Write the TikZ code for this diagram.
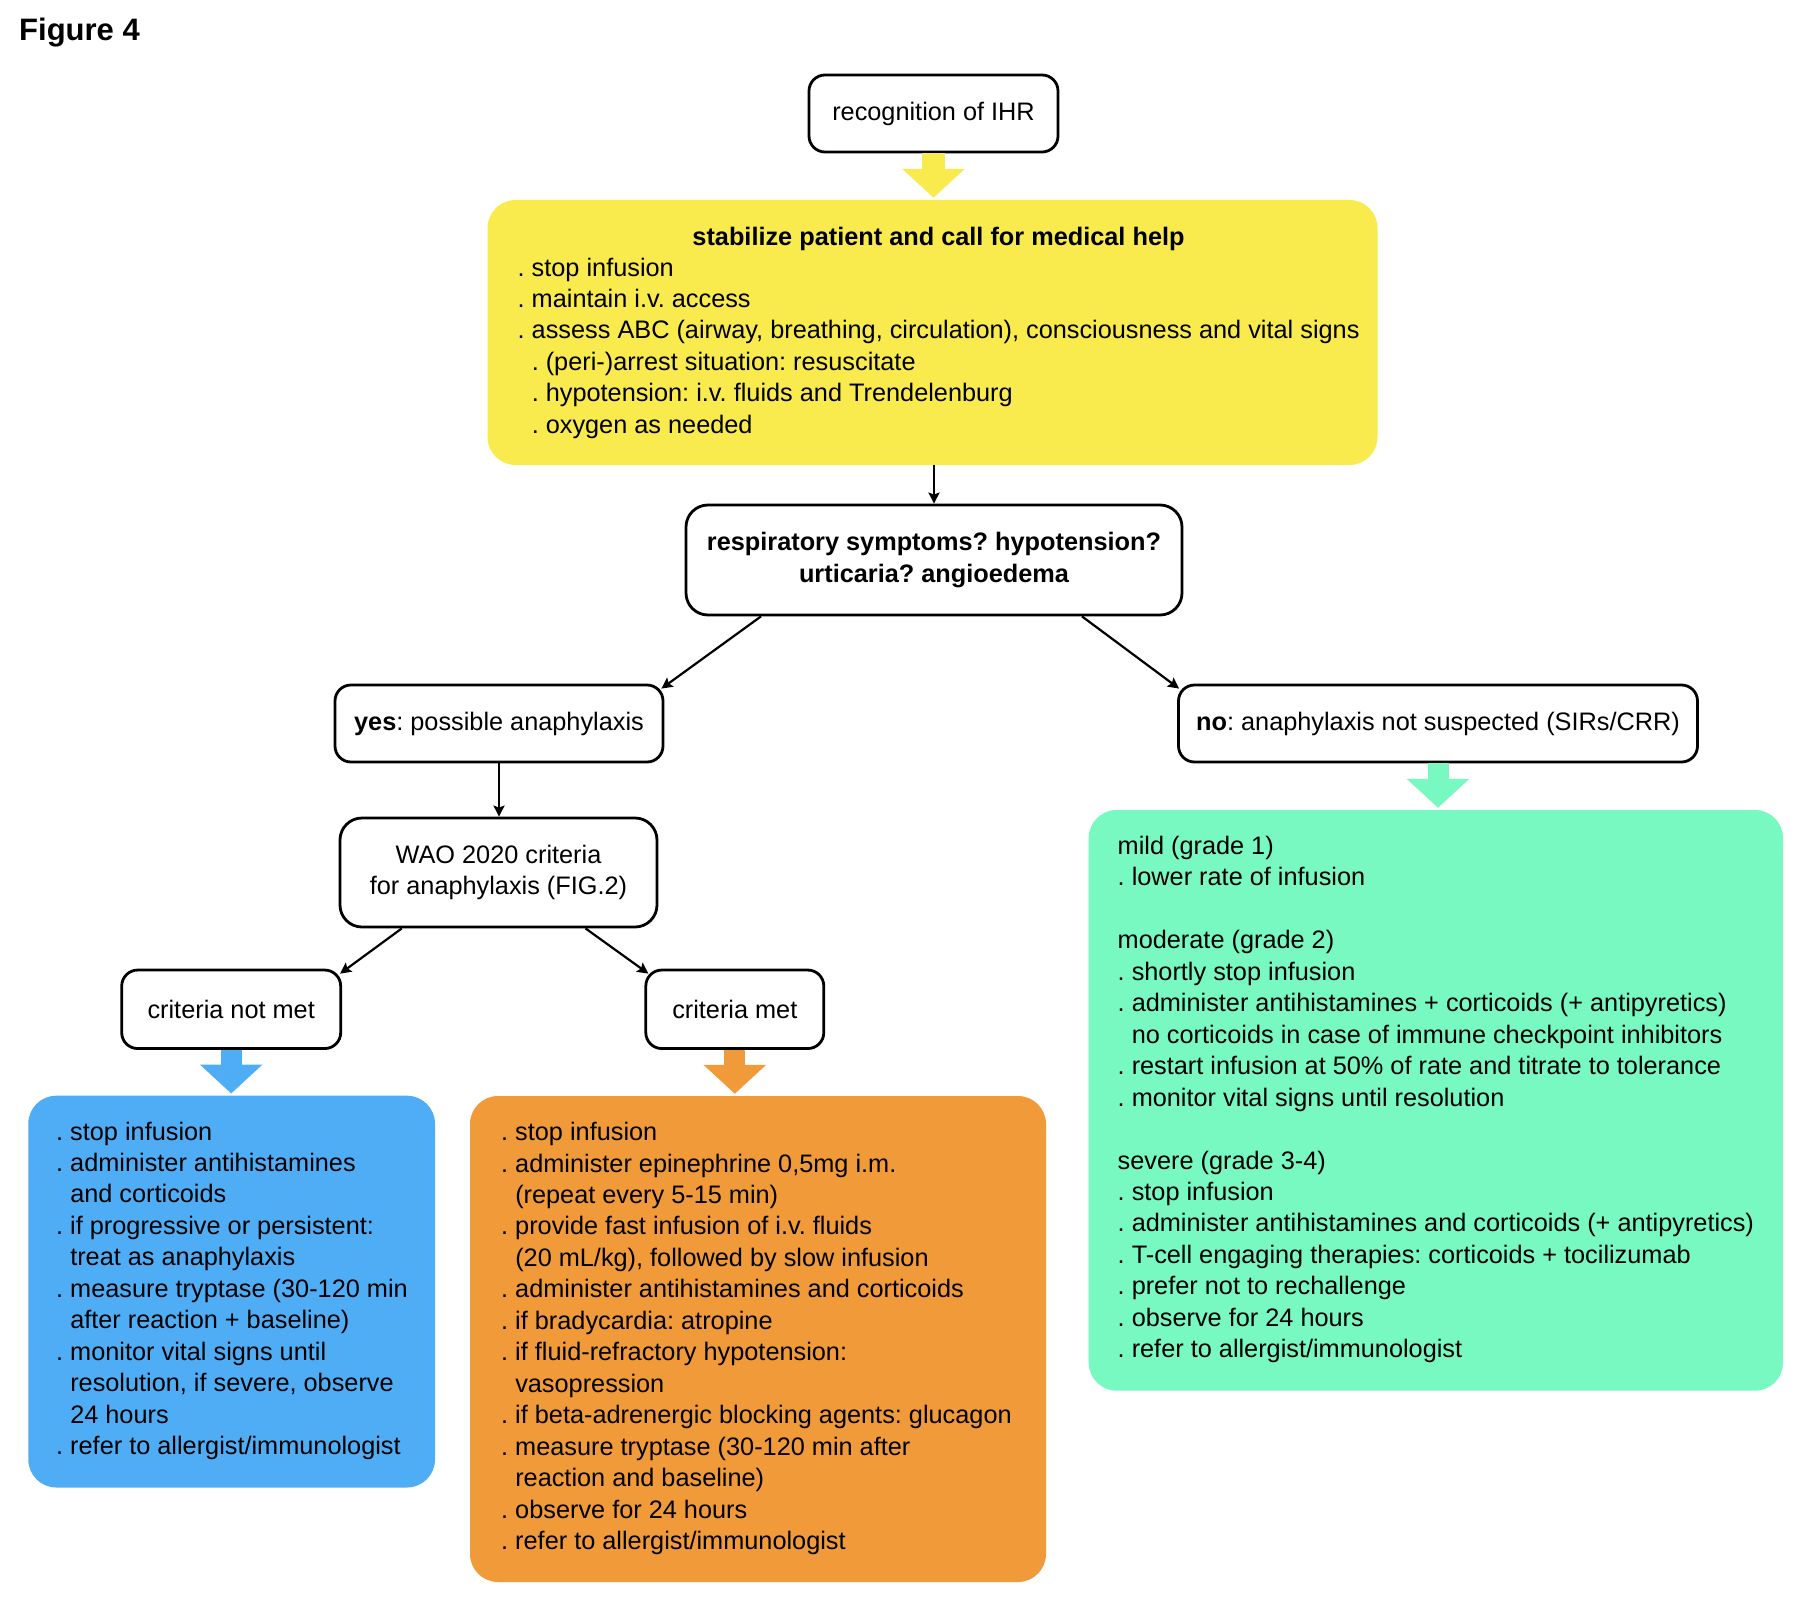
\documentclass[tikz,border=0pt]{standalone}
\usepackage{fontspec}
\setmainfont{Liberation Sans}
\usetikzlibrary{arrows.meta}
\definecolor{cyel}{HTML}{F9EB4E}
\definecolor{cblue}{HTML}{4FADF5}
\definecolor{corange}{HTML}{F09A3A}
\definecolor{cgreen}{HTML}{78F9C1}
\newcommand\bodyfont{\fontsize{25.3}{31.45}\selectfont\frenchspacing}
\newcommand\lines[1]{\begin{tabular}[t]{@{}l@{}}#1\end{tabular}}
\newcommand\ind{\hphantom{.\ }}
\frenchspacing
\begin{document}
\begin{tikzpicture}[x=1pt,y=-1pt,
  every node/.style={font=\bodyfont},
  box/.style={draw, line width=2.8pt, rounded corners=16pt, fill=white, inner sep=0pt, align=center},
  cbox/.style={rounded corners=28pt, inner sep=0pt},
  arr/.style={line width=2.2pt, -{Stealth[length=11pt,width=11pt,inset=2pt]}},
  barr/.style={line width=21pt, shorten >=2pt, -{Triangle[length=29pt,width=61pt]}},
  txt/.style={anchor=base west, inner sep=0pt}
]
\useasboundingbox[fill=white] (0,0) rectangle (1812,1608);

\node[anchor=base west, inner sep=0pt, font=\fontsize{31}{36}\selectfont\bfseries] (fig) at (19,41) {Figure 4};

% top
\node[box, minimum width=249pt, minimum height=77pt] (rec) at (933.5,113.5) {recognition of IHR};
\node[cbox, fill=cyel, minimum width=890pt, minimum height=265pt] (yel) at (932.5,332.5) {};
\node[anchor=base, inner sep=0pt, font=\bodyfont\bfseries] (ytitle) at (938.5,245) {stabilize patient and call for medical help};
\node[txt] (ybody) at (517.5,276) {\lines{. stop infusion\\
. maintain i.v. access\\
. assess ABC (airway, breathing, circulation), consciousness and vital signs\\
\ind. (peri-)arrest situation: resuscitate\\
\ind. hypotension: i.v. fluids and Trendelenburg\\
\ind. oxygen as needed}};

\node[box, rounded corners=22pt, minimum width=496pt, minimum height=110pt, font=\bodyfont\bfseries] (q) at (934,560) {respiratory symptoms? hypotension?\\urticaria? angioedema};

\node[box, minimum width=328pt, minimum height=77pt] (yes) at (499,723.5) {\textbf{yes}: possible anaphylaxis};
\node[box, minimum width=519pt, minimum height=77pt] (no) at (1438,723.5) {\textbf{no}: anaphylaxis not suspected (SIRs/CRR)};

\node[box, rounded corners=22pt, minimum width=317pt, minimum height=109pt] (wao) at (498.5,872.5) {WAO 2020 criteria\\for anaphylaxis (FIG.2)};

\node[box, minimum width=219pt, minimum height=78.5pt] (nm) at (231.2,1009.3) {criteria not met};
\node[box, minimum width=178pt, minimum height=78.5pt] (met) at (734.8,1009.3) {criteria met};

% coloured boxes
\node[cbox, fill=cblue, minimum width=406.7pt, minimum height=391.8pt] (blue) at (231.65,1291.6) {};
\node[cbox, fill=corange, minimum width=576pt, minimum height=486pt] (orb) at (758,1339) {};
\node[cbox, fill=cgreen, minimum width=694.3pt, minimum height=580.7pt] (grn) at (1435.85,1100.35) {};

\node[txt] (btxt) at (56,1140) {\lines{. stop infusion\\
. administer antihistamines\\
\ind and corticoids\\
. if progressive or persistent:\\
\ind treat as anaphylaxis\\
. measure tryptase (30-120 min\\
\ind after reaction + baseline)\\
. monitor vital signs until\\
\ind resolution, if severe, observe\\
\ind 24 hours\\
. refer to allergist/immunologist}};

\node[txt] (otxt) at (501,1140.6) {\lines{. stop infusion\\
. administer epinephrine 0,5mg i.m.\\
\ind (repeat every 5-15 min)\\
. provide fast infusion of i.v. fluids\\
\ind (20 mL/kg), followed by slow infusion\\
. administer antihistamines and corticoids\\
. if bradycardia: atropine\\
. if fluid-refractory hypotension:\\
\ind vasopression\\
. if beta-adrenergic blocking agents: glucagon\\
. measure tryptase (30-120 min after\\
\ind reaction and baseline)\\
. observe for 24 hours\\
. refer to allergist/immunologist}};

\node[txt] (gtxt) at (1117.5,854.5) {\lines{mild (grade 1)\\
. lower rate of infusion\\
\\
moderate (grade 2)\\
. shortly stop infusion\\
. administer antihistamines + corticoids (+ antipyretics)\\
\ind no corticoids in case of immune checkpoint inhibitors\\
. restart infusion at 50\% of rate and titrate to tolerance\\
. monitor vital signs until resolution\\
\\
severe (grade 3-4)\\
. stop infusion\\
. administer antihistamines and corticoids (+ antipyretics)\\
. T-cell engaging therapies: corticoids + tocilizumab\\
. prefer not to rechallenge\\
. observe for 24 hours\\
. refer to allergist/immunologist}};

% block arrows
\draw[barr, cyel, line width=23pt] (rec.south) -- (rec.south |- yel.north);
\draw[barr, cgreen] (no.south) -- (no.south |- grn.north);
\draw[barr, cblue] (nm.south) -- (nm.south |- blue.north);
\draw[barr, corange] (met.south) -- (met.south |- orb.north);

% connectors
\draw[arr] (yel.south -| q.north) -- (q.north);
\draw[arr] ([xshift=-173pt]q.south) -- ([xshift=-3pt,yshift=-5pt]yes.north east);
\draw[arr] ([xshift=148pt]q.south) -- ([xshift=2pt,yshift=-5pt]no.north west);
\draw[arr] (yes.south) -- (yes.south |- wao.north);
\draw[arr] ([xshift=-96.7pt]wao.south) -- ([xshift=-2pt,yshift=-5pt]nm.north east);
\draw[arr] ([xshift=87pt]wao.south) -- ([xshift=4pt,yshift=-5pt]met.north west);
\end{tikzpicture}
\end{document}
